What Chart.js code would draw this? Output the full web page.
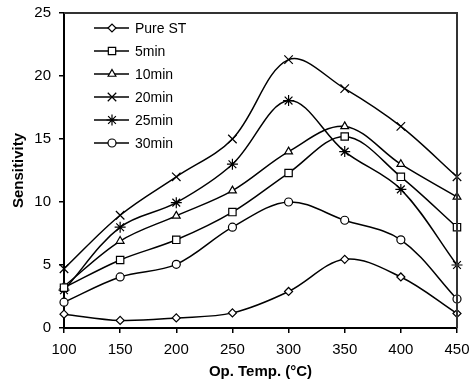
<!DOCTYPE html>
<html>
<head>
<meta charset="utf-8">
<script src="https://cdn.jsdelivr.net/npm/chart.js@4/dist/chart.umd.min.js"></script>
<style>
  html, body { margin: 0; padding: 0; background: #fff; }
  #wrap { width: 474px; height: 386px; position: relative; }
</style>
</head>
<body>
<div id="wrap"><canvas id="c"></canvas></div>
<script>
'use strict'

// operating temperatures (x axis)
const temps = [100, 150, 200, 250, 300, 350, 400, 450];

// sensitivity per series
const pureST = [1.1, 0.6, 0.8, 1.2, 2.9, 5.45, 4.05, 1.15];
const min5 = [3.2, 5.4, 7.0, 9.2, 12.3, 15.2, 12.0, 8.0];
const min10 = [3.3, 6.9, 8.9, 10.9, 14.0, 16.0, 13.0, 10.4];
const min20 = [4.7, 8.95, 12.0, 15.0, 21.3, 19.0, 16.0, 12.0];
const min25 = [3.0, 8.0, 9.95, 13.0, 18.05, 14.0, 11.0, 5.0];
const min30 = [2.05, 4.05, 5.05, 8.0, 10.0, 8.55, 7.0, 2.3];

const seriesNames = ['Pure ST', '5min', '10min', '20min', '25min', '30min'];
const seriesData = [pureST, min5, min10, min20, min25, min30];
const markers = ['rectRot', 'rect', 'triangle', 'crossRot', 'star', 'circle'];
// chart.js radius means different things per style, so tuned by eye
const markerRadius = [4, 5.2, 4.5, 6, 5.5, 4];

const yTicks = [0, 5, 10, 15, 20, 25];

const FONT = 'Arial, "Liberation Sans", sans-serif';

// hand drawn legend sitting inside the plot, like the excel one
const legendInside = {
  id: 'legendInside',
  afterDatasetsDraw(chart) {
    const ctx = chart.ctx;
    ctx.save();
    for (let i = 0; i < seriesNames.length; i++) {
      const y = 28 + i * 23;
      ctx.strokeStyle = '#000';
      ctx.lineWidth = 1.5;
      ctx.beginPath();
      ctx.moveTo(94, y);
      ctx.lineTo(129, y);
      ctx.stroke();
      ctx.fillStyle = '#fff';
      ctx.lineWidth = 1.2;
      if (Chart.helpers && Chart.helpers.drawPoint) {
        Chart.helpers.drawPoint(ctx, { pointStyle: markers[i], rotation: 0, radius: markerRadius[i], borderWidth: 1.2 }, 112, y);
      }
      ctx.fillStyle = '#000';
      ctx.font = '14px ' + FONT;
      ctx.textBaseline = 'middle';
      ctx.textAlign = 'left';
      ctx.fillText(seriesNames[i], 135, y + 1);
    }
    ctx.restore();
  }
};

// top and right edges of the plot box
const frame = {
  id: 'frame',
  afterDraw(chart) {
    const a = chart.chartArea;
    const ctx = chart.ctx;
    ctx.save();
    ctx.strokeStyle = '#333';
    ctx.lineWidth = 2;
    ctx.beginPath();
    ctx.moveTo(a.left, a.top);
    ctx.lineTo(a.right, a.top);
    ctx.lineTo(a.right, a.bottom);
    ctx.stroke();
    ctx.restore();
  }
};

const datasets = seriesNames.map((name, i) => ({
  label: name,
  data: seriesData[i],
  borderColor: '#000',
  borderWidth: 1.5,
  backgroundColor: '#fff',
  pointStyle: markers[i],
  pointRadius: markerRadius[i],
  pointBorderWidth: 1.2,
  pointBackgroundColor: '#fff',
  pointBorderColor: '#000',
  tension: 0.35,
  fill: false
}));

const chart = new Chart(document.getElementById('c'), {
  type: 'line',
  data: { labels: temps, datasets: datasets },
  options: {
    responsive: true,
    maintainAspectRatio: false,
    animation: false,
    devicePixelRatio: 1,
    layout: { padding: { left: 0, right: 17, top: 13, bottom: 0 } },
    plugins: {
      legend: { display: false },
      tooltip: { enabled: false }
    },
    scales: {
      x: {
        type: 'category',
        offset: false,
        grid: { drawOnChartArea: false, drawTicks: true, tickLength: 5, color: '#000', lineWidth: 1.5 },
        border: { color: '#000', width: 2 },
        ticks: { color: '#000', font: { family: FONT, size: 15 }, padding: 8, maxRotation: 0 },
        title: {
          display: true,
          text: 'Op. Temp. (\u00B0C)',
          color: '#000',
          font: { family: FONT, size: 15, weight: 'bold' },
          padding: { top: 4, bottom: 5 }
        },
        afterFit(scale) {
          scale.height = 386 - 328;
          // don't let the end labels push the plot in
          scale.paddingLeft = 0;
          scale.paddingRight = 0;
        }
      },
      y: {
        min: 0,
        max: 25,
        afterBuildTicks(scale) { scale.ticks = yTicks.map(v => ({ value: v })); },
        grid: { drawOnChartArea: false, drawTicks: true, tickLength: 5, color: '#000', lineWidth: 1.5 },
        border: { color: '#000', width: 2 },
        ticks: { color: '#000', font: { family: FONT, size: 15 }, padding: 8 },
        title: {
          display: true,
          text: 'Sensitivity',
          color: '#000',
          font: { family: FONT, size: 15, weight: 'bold' },
          padding: { top: 10, bottom: 4 }
        },
        afterFit(scale) {
          scale.width = 64;
          scale.paddingTop = 0;
          scale.paddingBottom = 0;
        }
      }
    }
  },
  plugins: [legendInside, frame]
});
</script>
</body>
</html>
